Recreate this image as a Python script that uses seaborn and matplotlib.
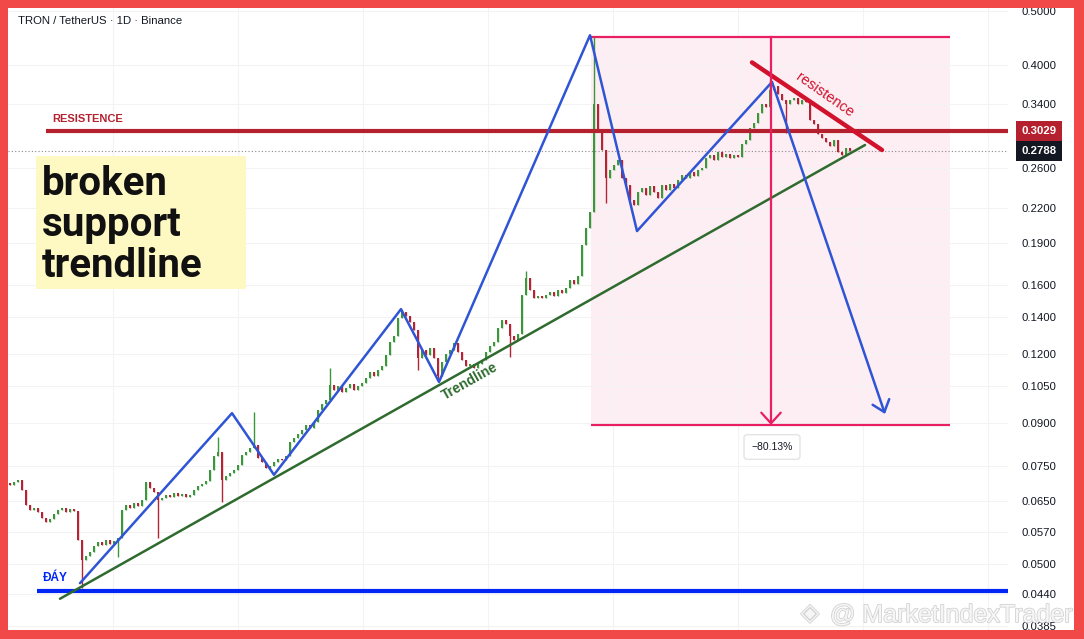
import numpy as np
import pandas as pd
import matplotlib
matplotlib.use("Agg")
import matplotlib.pyplot as plt
import matplotlib.transforms as mtransforms
import matplotlib.patheffects as pe
import seaborn as sns
from matplotlib.patches import Rectangle
from matplotlib.ticker import FixedLocator, NullLocator, FuncFormatter

# TRX/USDT closes (one bar ~ a few daily sessions)
closes = [
    0.0694, 0.0703, 0.0709, 0.0680, 0.0638, 0.0625, 0.0630, 0.0620, 0.0605, 0.0595,
    0.0602, 0.0615, 0.0625, 0.0630, 0.0620, 0.0628, 0.0622, 0.0552, 0.0508, 0.0516,
    0.0525, 0.0538, 0.0547, 0.0540, 0.0552, 0.0543, 0.0550, 0.0557, 0.0625, 0.0638,
    0.0630, 0.0644, 0.0636, 0.0652, 0.0703, 0.0686, 0.0675, 0.0652, 0.0657, 0.0666,
    0.0660, 0.0672, 0.0663, 0.0669, 0.0660, 0.0666, 0.0680, 0.0691, 0.0697, 0.0706,
    0.0739, 0.0783, 0.0796, 0.0709, 0.0721, 0.0730, 0.0739, 0.0755, 0.0786, 0.0796,
    0.0810, 0.0820, 0.0776, 0.0764, 0.0745, 0.0751, 0.0764, 0.0773, 0.0770, 0.0783,
    0.0830, 0.0844, 0.0858, 0.0873, 0.0891, 0.0880, 0.0902, 0.0948, 0.0972, 0.0989,
    0.1053, 0.1031, 0.1049, 0.1022, 0.1040, 0.1058, 0.1031, 0.1049, 0.1062, 0.1084,
    0.1111, 0.1093, 0.1120, 0.1139, 0.1193, 0.1260, 0.1291, 0.1392, 0.1426, 0.1403,
    0.1369, 0.1323, 0.1178, 0.1218, 0.1193, 0.1228, 0.1178, 0.1093, 0.1158, 0.1198,
    0.1218, 0.1254, 0.1208, 0.1168, 0.1139, 0.1149, 0.1130, 0.1149, 0.1168, 0.1208,
    0.1239, 0.1260, 0.1334, 0.1380, 0.1357, 0.1291, 0.1270, 0.1302, 0.1531, 0.1643,
    0.1563, 0.1512, 0.1525, 0.1512, 0.1531, 0.1550, 0.1525, 0.1563, 0.1544, 0.1576,
    0.1630, 0.1603, 0.1657, 0.1886, 0.2025, 0.2164, 0.3392, 0.3045, 0.2802, 0.2493,
    0.2578, 0.2633, 0.2688, 0.2493, 0.2423, 0.2275, 0.2229, 0.2352, 0.2392, 0.2323,
    0.2413, 0.2352, 0.2294, 0.2423, 0.2372, 0.2433, 0.2392, 0.2473, 0.2525, 0.2493,
    0.2557, 0.2515, 0.2578, 0.2600, 0.2711, 0.2745, 0.2688, 0.2779, 0.2722, 0.2757,
    0.2711, 0.2745, 0.2722, 0.2873, 0.2921, 0.3071, 0.3137, 0.3267, 0.3392, 0.3350,
    0.3598, 0.3658, 0.3539, 0.3451, 0.3395, 0.3451, 0.3480, 0.3395, 0.3451, 0.3423,
    0.3175, 0.3124, 0.2996, 0.2945, 0.2897, 0.2848, 0.2921, 0.2779, 0.2745, 0.2826,
    0.2788,
]
first_open = 0.0700
# the long wicks that stand out (bar index -> price)
wick_highs = {52: 0.0848, 61: 0.0940, 80: 0.1129, 129: 0.1692, 146: 0.449, 190: 0.3751}
wick_lows = {18: 0.0452, 27: 0.0514, 37: 0.0557, 53: 0.0647, 102: 0.1120,
             107: 0.1071, 125: 0.1183, 149: 0.2251, 194: 0.3008}

price_ticks = [0.5, 0.4, 0.34, 0.26, 0.22, 0.19, 0.16, 0.14, 0.12, 0.105,
               0.09, 0.075, 0.065, 0.057, 0.05, 0.044, 0.0385]
resistance_level = 0.3029
last_price = 0.2788
floor_level = 0.0447

# drawings on the chart
zigzag_x = [17.5, 55.5, 66, 97.75, 107.25, 145, 156.75, 190.5]
zigzag_y = [0.0461, 0.0936, 0.0724, 0.1444, 0.1066, 0.452, 0.1999, 0.3720]
zigzag_end = (218.75, 0.0933)
trend_x = [12.5, 213.75]
trend_y = [0.0432, 0.2861]
res_slant_x = [185.5, 218]
res_slant_y = [0.4036, 0.2802]
range_x = [145.25, 235]
range_y = [0.0891, 0.449]
measure_x = 190.25
drop_pct = "\u221280.13%"

GREEN = "#3c963c"
RED = "#b32437"
RES_RED = "#b5202e"
SLANT_RED = "#d0122c"
PINK = "#e91e63"
ZIG_BLUE = "#2f55d4"
FLOOR_BLUE = "#0026f5"
TREND_GREEN = "#2f6b2f"
BORDER = "#f14848"
TXT = "#131722"

sns.set_theme(style="white")
plt.rcParams['font.family'] = ['Liberation Sans', 'DejaVu Sans']

df = pd.DataFrame({"close": closes})
df["open"] = df["close"].shift(1).fillna(first_open)
df["top"] = df[["open", "close"]].max(axis=1)
df["bot"] = df[["open", "close"]].min(axis=1)
df["high"] = df["top"]
df["low"] = df["bot"]
for i, v in wick_highs.items():
    df.loc[i, "high"] = v
for i, v in wick_lows.items():
    df.loc[i, "low"] = v
df["top"] = np.maximum(df["top"], df["bot"] * 1.004)
colors = np.where(df["close"] >= df["open"], GREEN, RED)

fig = plt.figure(figsize=(10.84, 6.39), dpi=100, facecolor="white")
ax = fig.add_axes([8 / 1084, 8 / 639, 1000 / 1084, 631 / 639])
ax.set_facecolor("white")
ax.set_yscale("log")
ax.set_xlim(-0.5, 249.5)
ax.set_ylim(0.03777, 0.5235)

# measured range box
ax.add_patch(Rectangle((range_x[0], range_y[0]), range_x[1] - range_x[0],
                       range_y[1] - range_y[0], fc="#fdeef3", ec="none", zorder=0.5))
ax.hlines([range_y[1], range_y[0]], range_x[0], range_x[1], color=PINK, lw=1.6, zorder=2)

# candles
ax.vlines(df.index, df["low"], df["high"], colors=colors, lw=1, zorder=3)
ax.bar(df.index, df["top"] - df["bot"], bottom=df["bot"], width=0.55,
       color=colors, linewidth=0, zorder=3)

# levels
ax.hlines(resistance_level, 9, 249.5, color=RES_RED, lw=3, zorder=4)
ax.hlines(floor_level, 6.75, 249.5, color=FLOOR_BLUE, lw=3, zorder=4)
ax.axhline(last_price, color="#888888", lw=0.8, ls=(0, (1, 2)), zorder=2)

# trendline and zigzag
sns.lineplot(x=trend_x, y=trend_y, ax=ax, color=TREND_GREEN, lw=1.8, zorder=5)
sns.lineplot(x=zigzag_x, y=zigzag_y, sort=False, ax=ax, color=ZIG_BLUE, lw=1.8, zorder=5)
ax.annotate("", xy=zigzag_end, xytext=(zigzag_x[-1], zigzag_y[-1]),
            arrowprops=dict(arrowstyle="->,head_length=0.55,head_width=0.45",
                            color=ZIG_BLUE, lw=1.8, shrinkA=0, shrinkB=0,
                            mutation_scale=14), zorder=5)
ax.plot(res_slant_x, res_slant_y, color=SLANT_RED, lw=3.2,
        solid_capstyle="round", zorder=5)
ax.annotate("", xy=(measure_x, range_y[0]), xytext=(measure_x, range_y[1]),
            arrowprops=dict(arrowstyle="->,head_length=0.55,head_width=0.5",
                            color=PINK, lw=1.6, shrinkA=0, shrinkB=0,
                            mutation_scale=14), zorder=5)

# labels
ax.text(10.5, 0.3188, "RESISTENCE", color=RES_RED, fontsize=8, weight="bold",
        va="center", ha="left", zorder=6)
ax.text(8.25, 0.0471, "ĐÁY", color=FLOOR_BLUE, fontsize=8.5, weight="bold",
        va="center", ha="left", zorder=6)
ax.text(115, 0.1071, "Trendline", color=TREND_GREEN, fontsize=10, weight="bold",
        rotation=29.5, rotation_mode="anchor", ha="center", va="center", zorder=6)
ax.text(203.75, 0.3525, "resistence", color=SLANT_RED, fontsize=10.5,
        rotation=-35, rotation_mode="anchor", ha="center", va="center", zorder=6)
ax.text(190.5, 0.0813, drop_pct, color=TXT, fontsize=7.5, ha="center", va="center",
        bbox=dict(boxstyle="round,pad=0.7,rounding_size=0.3", fc="white", ec="#e4e4e4"),
        zorder=6)

ax.add_patch(Rectangle((0.028, 0.542), 0.21, 0.211, transform=ax.transAxes,
                       fc="#fef9c3", ec="none", zorder=6))
ax.text(0.034, 0.739, "broken\nsupport\ntrendline", transform=ax.transAxes,
        fontsize=29, weight="bold", family=["Roboto", "DejaVu Sans"],
        color="#111111", va="top", ha="left", linespacing=1.1, zorder=7)

# price scale on the right
ax.yaxis.tick_right()
ax.yaxis.set_major_locator(FixedLocator(price_ticks))
ax.yaxis.set_minor_locator(NullLocator())
ax.yaxis.set_major_formatter(FuncFormatter(lambda v, _: f"{v:.4f}"))
ax.tick_params(axis="y", which="both", length=0, pad=9.5, labelsize=8.2, labelcolor=TXT)
ax.set_xticks(np.arange(25.75, 250, 31.25))
ax.tick_params(axis="x", length=0, labelbottom=False)
ax.grid(True, color="#f3f3f3", lw=0.8)
ax.set_axisbelow(True)
for s in ax.spines.values():
    s.set_visible(False)

trans = mtransforms.blended_transform_factory(ax.transAxes, ax.transData)
ax.text(1.0135, resistance_level, f"{resistance_level:.4f}", transform=trans,
        color="white", weight="bold", fontsize=8.2, va="center", ha="left",
        bbox=dict(boxstyle="square,pad=0.45", fc=RES_RED, ec="none"), zorder=8)
ax.text(1.0135, last_price, f"{last_price:.4f}", transform=trans,
        color="white", weight="bold", fontsize=8.2, va="center", ha="left",
        bbox=dict(boxstyle="square,pad=0.45", fc=TXT, ec="none"), zorder=8)

fig.text(18 / 1084, 1 - 21 / 639, "TRON / TetherUS \u00b7 1D \u00b7 Binance",
         fontsize=8.2, color=TXT, va="center", ha="left")

# watermark
wm = fig.text(830 / 1084, (639 - 622) / 639, "@ MarketIndexTrader", fontsize=18,
              color="#f6f6f6", va="baseline", ha="left", zorder=5)
wm.set_path_effects([pe.withStroke(linewidth=1.2, foreground="#d2d2d2")])
logo = fig.text(810 / 1084, (639 - 620) / 639, "\u25c8", fontsize=17,
                family=["DejaVu Sans"], color="#f6f6f6", va="baseline",
                ha="center", zorder=5)
logo.set_path_effects([pe.withStroke(linewidth=1.2, foreground="#d2d2d2")])

# red frame
for r in [(0, 0, 8 / 1084, 1), (0, 1 - 8 / 639, 1, 8 / 639),
          (1074 / 1084, 0, 10 / 1084, 1), (0, 0, 1, 9 / 639)]:
    fig.add_artist(Rectangle(r[:2], r[2], r[3], transform=fig.transFigure,
                             fc=BORDER, ec="none", zorder=10))

fig.savefig("out.png", dpi=100, facecolor="white")
